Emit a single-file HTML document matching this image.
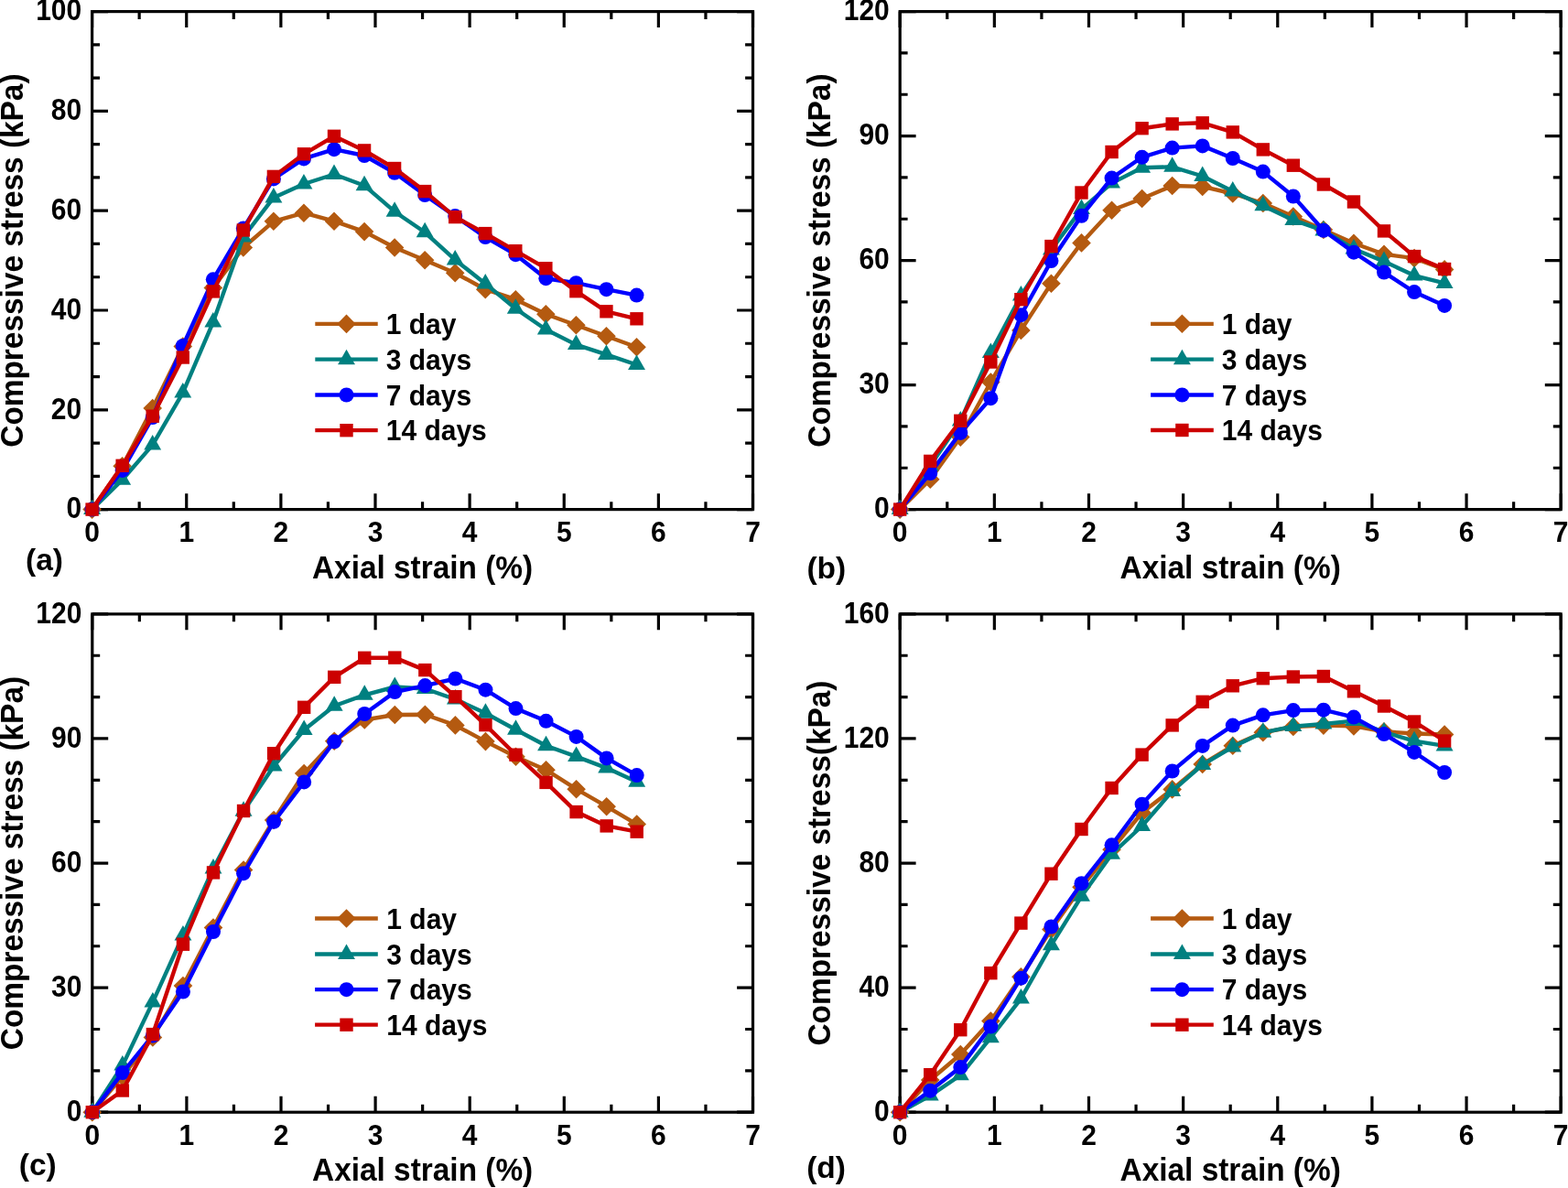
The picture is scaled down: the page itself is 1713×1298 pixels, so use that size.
<!DOCTYPE html>
<html><head><meta charset="utf-8"><title>Compressive stress vs axial strain</title>
<style>html,body{margin:0;padding:0;background:#fff;}svg{display:block;}</style>
</head><body>
<svg width="1713" height="1298" viewBox="0 0 1713 1298">
<rect width="1713" height="1298" fill="#fff"/>
<g font-family="'Liberation Sans', Arial, Helvetica, sans-serif" font-weight="bold" fill="#000">
<g><path d="M100.6 556.6V539.2M100.6 12.6V30M152.16 556.6V548.2M152.16 12.6V21M203.73 556.6V539.2M203.73 12.6V30M255.29 556.6V548.2M255.29 12.6V21M306.86 556.6V539.2M306.86 12.6V30M358.42 556.6V548.2M358.42 12.6V21M409.99 556.6V539.2M409.99 12.6V30M461.55 556.6V548.2M461.55 12.6V21M513.11 556.6V539.2M513.11 12.6V30M564.68 556.6V548.2M564.68 12.6V21M616.24 556.6V539.2M616.24 12.6V30M667.81 556.6V548.2M667.81 12.6V21M719.37 556.6V539.2M719.37 12.6V30M770.94 556.6V548.2M770.94 12.6V21M822.5 556.6V539.2M822.5 12.6V30M100.6 556.6H118M822.5 556.6H805.1M100.6 520.33H109M822.5 520.33H814.1M100.6 484.07H109M822.5 484.07H814.1M100.6 447.8H118M822.5 447.8H805.1M100.6 411.53H109M822.5 411.53H814.1M100.6 375.27H109M822.5 375.27H814.1M100.6 339H118M822.5 339H805.1M100.6 302.73H109M822.5 302.73H814.1M100.6 266.47H109M822.5 266.47H814.1M100.6 230.2H118M822.5 230.2H805.1M100.6 193.93H109M822.5 193.93H814.1M100.6 157.67H109M822.5 157.67H814.1M100.6 121.4H118M822.5 121.4H805.1M100.6 85.13H109M822.5 85.13H814.1M100.6 48.87H109M822.5 48.87H814.1M100.6 12.6H118M822.5 12.6H805.1" stroke="#000" stroke-width="3.2" fill="none"/><rect x="100.6" y="12.6" width="721.9" height="544" fill="none" stroke="#000" stroke-width="3.2" stroke-linejoin="miter"/><polyline points="100.6,556.6 133.65,509.3 166.7,446 199.75,378.6 232.8,314.5 265.85,270.5 298.9,241.8 331.95,232.7 365,241.7 398.05,253.1 431.1,270.5 464.15,284.2 497.2,298.2 530.25,316.2 563.3,327.2 596.35,343.3 629.4,355.3 662.45,367.3 695.5,379.3" fill="none" stroke="#B45A10" stroke-width="4.4" stroke-linejoin="round" stroke-linecap="butt"/><path d="M100.6 546.3L110.9 556.6L100.6 566.9L90.3 556.6Z" fill="#B45A10"/><path d="M133.65 499L143.95 509.3L133.65 519.6L123.35 509.3Z" fill="#B45A10"/><path d="M166.7 435.7L177 446L166.7 456.3L156.4 446Z" fill="#B45A10"/><path d="M199.75 368.3L210.05 378.6L199.75 388.9L189.45 378.6Z" fill="#B45A10"/><path d="M232.8 304.2L243.1 314.5L232.8 324.8L222.5 314.5Z" fill="#B45A10"/><path d="M265.85 260.2L276.15 270.5L265.85 280.8L255.55 270.5Z" fill="#B45A10"/><path d="M298.9 231.5L309.2 241.8L298.9 252.1L288.6 241.8Z" fill="#B45A10"/><path d="M331.95 222.4L342.25 232.7L331.95 243L321.65 232.7Z" fill="#B45A10"/><path d="M365 231.4L375.3 241.7L365 252L354.7 241.7Z" fill="#B45A10"/><path d="M398.05 242.8L408.35 253.1L398.05 263.4L387.75 253.1Z" fill="#B45A10"/><path d="M431.1 260.2L441.4 270.5L431.1 280.8L420.8 270.5Z" fill="#B45A10"/><path d="M464.15 273.9L474.45 284.2L464.15 294.5L453.85 284.2Z" fill="#B45A10"/><path d="M497.2 287.9L507.5 298.2L497.2 308.5L486.9 298.2Z" fill="#B45A10"/><path d="M530.25 305.9L540.55 316.2L530.25 326.5L519.95 316.2Z" fill="#B45A10"/><path d="M563.3 316.9L573.6 327.2L563.3 337.5L553 327.2Z" fill="#B45A10"/><path d="M596.35 333L606.65 343.3L596.35 353.6L586.05 343.3Z" fill="#B45A10"/><path d="M629.4 345L639.7 355.3L629.4 365.6L619.1 355.3Z" fill="#B45A10"/><path d="M662.45 357L672.75 367.3L662.45 377.6L652.15 367.3Z" fill="#B45A10"/><path d="M695.5 369L705.8 379.3L695.5 389.6L685.2 379.3Z" fill="#B45A10"/><polyline points="100.6,556.6 133.65,524.2 166.7,486.1 199.75,429.1 232.8,352.1 265.85,259 298.9,215.9 331.95,201 365,190.5 398.05,202.7 431.1,231.2 464.15,253.8 497.2,283.9 530.25,309.9 563.3,337.3 596.35,360 629.4,376.6 662.45,387.4 695.5,398.5" fill="none" stroke="#008080" stroke-width="4.4" stroke-linejoin="round" stroke-linecap="butt"/><path d="M100.6 545.6L110.05 562.1L91.15 562.1Z" fill="#008080"/><path d="M133.65 513.2L143.1 529.7L124.2 529.7Z" fill="#008080"/><path d="M166.7 475.1L176.15 491.6L157.25 491.6Z" fill="#008080"/><path d="M199.75 418.1L209.2 434.6L190.3 434.6Z" fill="#008080"/><path d="M232.8 341.1L242.25 357.6L223.35 357.6Z" fill="#008080"/><path d="M265.85 248L275.3 264.5L256.4 264.5Z" fill="#008080"/><path d="M298.9 204.9L308.35 221.4L289.45 221.4Z" fill="#008080"/><path d="M331.95 190L341.4 206.5L322.5 206.5Z" fill="#008080"/><path d="M365 179.5L374.45 196L355.55 196Z" fill="#008080"/><path d="M398.05 191.7L407.5 208.2L388.6 208.2Z" fill="#008080"/><path d="M431.1 220.2L440.55 236.7L421.65 236.7Z" fill="#008080"/><path d="M464.15 242.8L473.6 259.3L454.7 259.3Z" fill="#008080"/><path d="M497.2 272.9L506.65 289.4L487.75 289.4Z" fill="#008080"/><path d="M530.25 298.9L539.7 315.4L520.8 315.4Z" fill="#008080"/><path d="M563.3 326.3L572.75 342.8L553.85 342.8Z" fill="#008080"/><path d="M596.35 349L605.8 365.5L586.9 365.5Z" fill="#008080"/><path d="M629.4 365.6L638.85 382.1L619.95 382.1Z" fill="#008080"/><path d="M662.45 376.4L671.9 392.9L653 392.9Z" fill="#008080"/><path d="M695.5 387.5L704.95 404L686.05 404Z" fill="#008080"/><polyline points="100.6,556.6 133.65,513.9 166.7,456.1 199.75,377.9 232.8,305.3 265.85,249.5 298.9,195.4 331.95,173.4 365,163.2 398.05,170 431.1,188.8 464.15,213.1 497.2,236.1 530.25,259.1 563.3,278.2 596.35,304.2 629.4,309.2 662.45,316.2 695.5,322.6" fill="none" stroke="#0000FF" stroke-width="4.4" stroke-linejoin="round" stroke-linecap="butt"/><circle cx="100.6" cy="556.6" r="8" fill="#0000FF"/><circle cx="133.65" cy="513.9" r="8" fill="#0000FF"/><circle cx="166.7" cy="456.1" r="8" fill="#0000FF"/><circle cx="199.75" cy="377.9" r="8" fill="#0000FF"/><circle cx="232.8" cy="305.3" r="8" fill="#0000FF"/><circle cx="265.85" cy="249.5" r="8" fill="#0000FF"/><circle cx="298.9" cy="195.4" r="8" fill="#0000FF"/><circle cx="331.95" cy="173.4" r="8" fill="#0000FF"/><circle cx="365" cy="163.2" r="8" fill="#0000FF"/><circle cx="398.05" cy="170" r="8" fill="#0000FF"/><circle cx="431.1" cy="188.8" r="8" fill="#0000FF"/><circle cx="464.15" cy="213.1" r="8" fill="#0000FF"/><circle cx="497.2" cy="236.1" r="8" fill="#0000FF"/><circle cx="530.25" cy="259.1" r="8" fill="#0000FF"/><circle cx="563.3" cy="278.2" r="8" fill="#0000FF"/><circle cx="596.35" cy="304.2" r="8" fill="#0000FF"/><circle cx="629.4" cy="309.2" r="8" fill="#0000FF"/><circle cx="662.45" cy="316.2" r="8" fill="#0000FF"/><circle cx="695.5" cy="322.6" r="8" fill="#0000FF"/><polyline points="100.6,556.6 133.65,508.8 166.7,454.7 199.75,390.5 232.8,318.4 265.85,251.5 298.9,192.9 331.95,168.3 365,148.8 398.05,164.4 431.1,184 464.15,209.1 497.2,237.1 530.25,255.1 563.3,274.2 596.35,293.2 629.4,318.2 662.45,340.3 695.5,348.3" fill="none" stroke="#CC0000" stroke-width="4.4" stroke-linejoin="round" stroke-linecap="butt"/><rect x="93.4" y="549.4" width="14.4" height="14.4" fill="#CC0000"/><rect x="126.45" y="501.6" width="14.4" height="14.4" fill="#CC0000"/><rect x="159.5" y="447.5" width="14.4" height="14.4" fill="#CC0000"/><rect x="192.55" y="383.3" width="14.4" height="14.4" fill="#CC0000"/><rect x="225.6" y="311.2" width="14.4" height="14.4" fill="#CC0000"/><rect x="258.65" y="244.3" width="14.4" height="14.4" fill="#CC0000"/><rect x="291.7" y="185.7" width="14.4" height="14.4" fill="#CC0000"/><rect x="324.75" y="161.1" width="14.4" height="14.4" fill="#CC0000"/><rect x="357.8" y="141.6" width="14.4" height="14.4" fill="#CC0000"/><rect x="390.85" y="157.2" width="14.4" height="14.4" fill="#CC0000"/><rect x="423.9" y="176.8" width="14.4" height="14.4" fill="#CC0000"/><rect x="456.95" y="201.9" width="14.4" height="14.4" fill="#CC0000"/><rect x="490" y="229.9" width="14.4" height="14.4" fill="#CC0000"/><rect x="523.05" y="247.9" width="14.4" height="14.4" fill="#CC0000"/><rect x="556.1" y="267" width="14.4" height="14.4" fill="#CC0000"/><rect x="589.15" y="286" width="14.4" height="14.4" fill="#CC0000"/><rect x="622.2" y="311" width="14.4" height="14.4" fill="#CC0000"/><rect x="655.25" y="333.1" width="14.4" height="14.4" fill="#CC0000"/><rect x="688.3" y="341.1" width="14.4" height="14.4" fill="#CC0000"/><text transform="translate(100.6 592.1) scale(1 1.045)" font-size="30" text-anchor="middle">0</text><text transform="translate(203.73 592.1) scale(1 1.045)" font-size="30" text-anchor="middle">1</text><text transform="translate(306.86 592.1) scale(1 1.045)" font-size="30" text-anchor="middle">2</text><text transform="translate(409.99 592.1) scale(1 1.045)" font-size="30" text-anchor="middle">3</text><text transform="translate(513.11 592.1) scale(1 1.045)" font-size="30" text-anchor="middle">4</text><text transform="translate(616.24 592.1) scale(1 1.045)" font-size="30" text-anchor="middle">5</text><text transform="translate(719.37 592.1) scale(1 1.045)" font-size="30" text-anchor="middle">6</text><text transform="translate(822.5 592.1) scale(1 1.045)" font-size="30" text-anchor="middle">7</text><text transform="translate(89.2 566.4) scale(1 1.08)" font-size="30" text-anchor="end">0</text><text transform="translate(89.2 457.6) scale(1 1.08)" font-size="30" text-anchor="end">20</text><text transform="translate(89.2 348.8) scale(1 1.08)" font-size="30" text-anchor="end">40</text><text transform="translate(89.2 240) scale(1 1.08)" font-size="30" text-anchor="end">60</text><text transform="translate(89.2 131.2) scale(1 1.08)" font-size="30" text-anchor="end">80</text><text transform="translate(89.2 22.4) scale(1 1.08)" font-size="30" text-anchor="end">100</text><text transform="translate(461.55 631.8) scale(1 1.03)" font-size="33.4" text-anchor="middle">Axial strain (%)</text><text transform="translate(24.6 284.6) rotate(-90) scale(1 1.03)" font-size="33.4" text-anchor="middle">Compressive stress (kPa)</text><text x="28" y="622.6" font-size="33.5">(a)</text><line x1="344.3" y1="353.9" x2="412.7" y2="353.9" stroke="#B45A10" stroke-width="4.3"/><path d="M378.5 343.6L388.8 353.9L378.5 364.2L368.2 353.9Z" fill="#B45A10"/><text transform="translate(421.7 364.9) scale(1 1.06)" font-size="30">1 day</text><line x1="344.3" y1="392.7" x2="412.7" y2="392.7" stroke="#008080" stroke-width="4.3"/><path d="M378.5 381.7L387.95 398.2L369.05 398.2Z" fill="#008080"/><text transform="translate(421.7 403.7) scale(1 1.06)" font-size="30">3 days</text><line x1="344.3" y1="431.5" x2="412.7" y2="431.5" stroke="#0000FF" stroke-width="4.3"/><circle cx="378.5" cy="431.5" r="8" fill="#0000FF"/><text transform="translate(421.7 442.5) scale(1 1.06)" font-size="30">7 days</text><line x1="344.3" y1="470.2" x2="412.7" y2="470.2" stroke="#CC0000" stroke-width="4.3"/><rect x="371.3" y="463" width="14.4" height="14.4" fill="#CC0000"/><text transform="translate(421.7 481.2) scale(1 1.06)" font-size="30">14 days</text></g>
<g><path d="M983.2 556.6V539.2M983.2 12.6V30M1034.77 556.6V548.2M1034.77 12.6V21M1086.34 556.6V539.2M1086.34 12.6V30M1137.91 556.6V548.2M1137.91 12.6V21M1189.49 556.6V539.2M1189.49 12.6V30M1241.06 556.6V548.2M1241.06 12.6V21M1292.63 556.6V539.2M1292.63 12.6V30M1344.2 556.6V548.2M1344.2 12.6V21M1395.77 556.6V539.2M1395.77 12.6V30M1447.34 556.6V548.2M1447.34 12.6V21M1498.91 556.6V539.2M1498.91 12.6V30M1550.49 556.6V548.2M1550.49 12.6V21M1602.06 556.6V539.2M1602.06 12.6V30M1653.63 556.6V548.2M1653.63 12.6V21M1705.2 556.6V539.2M1705.2 12.6V30M983.2 556.6H1000.6M1705.2 556.6H1687.8M983.2 511.27H991.6M1705.2 511.27H1696.8M983.2 465.93H991.6M1705.2 465.93H1696.8M983.2 420.6H1000.6M1705.2 420.6H1687.8M983.2 375.27H991.6M1705.2 375.27H1696.8M983.2 329.93H991.6M1705.2 329.93H1696.8M983.2 284.6H1000.6M1705.2 284.6H1687.8M983.2 239.27H991.6M1705.2 239.27H1696.8M983.2 193.93H991.6M1705.2 193.93H1696.8M983.2 148.6H1000.6M1705.2 148.6H1687.8M983.2 103.27H991.6M1705.2 103.27H1696.8M983.2 57.93H991.6M1705.2 57.93H1696.8M983.2 12.6H1000.6M1705.2 12.6H1687.8" stroke="#000" stroke-width="3.2" fill="none"/><rect x="983.2" y="12.6" width="722" height="544" fill="none" stroke="#000" stroke-width="3.2" stroke-linejoin="miter"/><polyline points="983.2,556.6 1016.25,523.8 1049.3,477.6 1082.35,417.5 1115.4,360.9 1148.45,309.7 1181.5,265.4 1214.55,229.7 1247.6,217 1280.65,203 1313.7,203.9 1346.75,211.5 1379.8,222 1412.85,236.5 1445.9,251 1478.95,265.8 1512,277.8 1545.05,282.1 1578.1,294.4" fill="none" stroke="#B45A10" stroke-width="4.4" stroke-linejoin="round" stroke-linecap="butt"/><path d="M983.2 546.3L993.5 556.6L983.2 566.9L972.9 556.6Z" fill="#B45A10"/><path d="M1016.25 513.5L1026.55 523.8L1016.25 534.1L1005.95 523.8Z" fill="#B45A10"/><path d="M1049.3 467.3L1059.6 477.6L1049.3 487.9L1039 477.6Z" fill="#B45A10"/><path d="M1082.35 407.2L1092.65 417.5L1082.35 427.8L1072.05 417.5Z" fill="#B45A10"/><path d="M1115.4 350.6L1125.7 360.9L1115.4 371.2L1105.1 360.9Z" fill="#B45A10"/><path d="M1148.45 299.4L1158.75 309.7L1148.45 320L1138.15 309.7Z" fill="#B45A10"/><path d="M1181.5 255.1L1191.8 265.4L1181.5 275.7L1171.2 265.4Z" fill="#B45A10"/><path d="M1214.55 219.4L1224.85 229.7L1214.55 240L1204.25 229.7Z" fill="#B45A10"/><path d="M1247.6 206.7L1257.9 217L1247.6 227.3L1237.3 217Z" fill="#B45A10"/><path d="M1280.65 192.7L1290.95 203L1280.65 213.3L1270.35 203Z" fill="#B45A10"/><path d="M1313.7 193.6L1324 203.9L1313.7 214.2L1303.4 203.9Z" fill="#B45A10"/><path d="M1346.75 201.2L1357.05 211.5L1346.75 221.8L1336.45 211.5Z" fill="#B45A10"/><path d="M1379.8 211.7L1390.1 222L1379.8 232.3L1369.5 222Z" fill="#B45A10"/><path d="M1412.85 226.2L1423.15 236.5L1412.85 246.8L1402.55 236.5Z" fill="#B45A10"/><path d="M1445.9 240.7L1456.2 251L1445.9 261.3L1435.6 251Z" fill="#B45A10"/><path d="M1478.95 255.5L1489.25 265.8L1478.95 276.1L1468.65 265.8Z" fill="#B45A10"/><path d="M1512 267.5L1522.3 277.8L1512 288.1L1501.7 277.8Z" fill="#B45A10"/><path d="M1545.05 271.8L1555.35 282.1L1545.05 292.4L1534.75 282.1Z" fill="#B45A10"/><path d="M1578.1 284.1L1588.4 294.4L1578.1 304.7L1567.8 294.4Z" fill="#B45A10"/><polyline points="983.2,556.6 1016.25,509 1049.3,460 1082.35,385.4 1115.4,323 1148.45,272.9 1181.5,228.6 1214.55,200.1 1247.6,183.3 1280.65,182.3 1313.7,192.5 1346.75,209 1379.8,224.7 1412.85,240.4 1445.9,251.9 1478.95,272 1512,285.6 1545.05,301.1 1578.1,309.4" fill="none" stroke="#008080" stroke-width="4.4" stroke-linejoin="round" stroke-linecap="butt"/><path d="M983.2 545.6L992.65 562.1L973.75 562.1Z" fill="#008080"/><path d="M1016.25 498L1025.7 514.5L1006.8 514.5Z" fill="#008080"/><path d="M1049.3 449L1058.75 465.5L1039.85 465.5Z" fill="#008080"/><path d="M1082.35 374.4L1091.8 390.9L1072.9 390.9Z" fill="#008080"/><path d="M1115.4 312L1124.85 328.5L1105.95 328.5Z" fill="#008080"/><path d="M1148.45 261.9L1157.9 278.4L1139 278.4Z" fill="#008080"/><path d="M1181.5 217.6L1190.95 234.1L1172.05 234.1Z" fill="#008080"/><path d="M1214.55 189.1L1224 205.6L1205.1 205.6Z" fill="#008080"/><path d="M1247.6 172.3L1257.05 188.8L1238.15 188.8Z" fill="#008080"/><path d="M1280.65 171.3L1290.1 187.8L1271.2 187.8Z" fill="#008080"/><path d="M1313.7 181.5L1323.15 198L1304.25 198Z" fill="#008080"/><path d="M1346.75 198L1356.2 214.5L1337.3 214.5Z" fill="#008080"/><path d="M1379.8 213.7L1389.25 230.2L1370.35 230.2Z" fill="#008080"/><path d="M1412.85 229.4L1422.3 245.9L1403.4 245.9Z" fill="#008080"/><path d="M1445.9 240.9L1455.35 257.4L1436.45 257.4Z" fill="#008080"/><path d="M1478.95 261L1488.4 277.5L1469.5 277.5Z" fill="#008080"/><path d="M1512 274.6L1521.45 291.1L1502.55 291.1Z" fill="#008080"/><path d="M1545.05 290.1L1554.5 306.6L1535.6 306.6Z" fill="#008080"/><path d="M1578.1 298.4L1587.55 314.9L1568.65 314.9Z" fill="#008080"/><polyline points="983.2,556.6 1016.25,517 1049.3,472.9 1082.35,435.2 1115.4,344.2 1148.45,285.1 1181.5,235.8 1214.55,194.6 1247.6,171.8 1280.65,161.6 1313.7,159.4 1346.75,173 1379.8,187.6 1412.85,214.5 1445.9,251.8 1478.95,275.7 1512,297.6 1545.05,319.1 1578.1,333.9" fill="none" stroke="#0000FF" stroke-width="4.4" stroke-linejoin="round" stroke-linecap="butt"/><circle cx="983.2" cy="556.6" r="8" fill="#0000FF"/><circle cx="1016.25" cy="517" r="8" fill="#0000FF"/><circle cx="1049.3" cy="472.9" r="8" fill="#0000FF"/><circle cx="1082.35" cy="435.2" r="8" fill="#0000FF"/><circle cx="1115.4" cy="344.2" r="8" fill="#0000FF"/><circle cx="1148.45" cy="285.1" r="8" fill="#0000FF"/><circle cx="1181.5" cy="235.8" r="8" fill="#0000FF"/><circle cx="1214.55" cy="194.6" r="8" fill="#0000FF"/><circle cx="1247.6" cy="171.8" r="8" fill="#0000FF"/><circle cx="1280.65" cy="161.6" r="8" fill="#0000FF"/><circle cx="1313.7" cy="159.4" r="8" fill="#0000FF"/><circle cx="1346.75" cy="173" r="8" fill="#0000FF"/><circle cx="1379.8" cy="187.6" r="8" fill="#0000FF"/><circle cx="1412.85" cy="214.5" r="8" fill="#0000FF"/><circle cx="1445.9" cy="251.8" r="8" fill="#0000FF"/><circle cx="1478.95" cy="275.7" r="8" fill="#0000FF"/><circle cx="1512" cy="297.6" r="8" fill="#0000FF"/><circle cx="1545.05" cy="319.1" r="8" fill="#0000FF"/><circle cx="1578.1" cy="333.9" r="8" fill="#0000FF"/><polyline points="983.2,556.6 1016.25,503.9 1049.3,459.8 1082.35,395.5 1115.4,327.2 1148.45,269.1 1181.5,210.5 1214.55,166 1247.6,140.2 1280.65,135.4 1313.7,134.3 1346.75,144.4 1379.8,163.4 1412.85,180.7 1445.9,201.5 1478.95,220.5 1512,252.4 1545.05,280.1 1578.1,294" fill="none" stroke="#CC0000" stroke-width="4.4" stroke-linejoin="round" stroke-linecap="butt"/><rect x="976" y="549.4" width="14.4" height="14.4" fill="#CC0000"/><rect x="1009.05" y="496.7" width="14.4" height="14.4" fill="#CC0000"/><rect x="1042.1" y="452.6" width="14.4" height="14.4" fill="#CC0000"/><rect x="1075.15" y="388.3" width="14.4" height="14.4" fill="#CC0000"/><rect x="1108.2" y="320" width="14.4" height="14.4" fill="#CC0000"/><rect x="1141.25" y="261.9" width="14.4" height="14.4" fill="#CC0000"/><rect x="1174.3" y="203.3" width="14.4" height="14.4" fill="#CC0000"/><rect x="1207.35" y="158.8" width="14.4" height="14.4" fill="#CC0000"/><rect x="1240.4" y="133" width="14.4" height="14.4" fill="#CC0000"/><rect x="1273.45" y="128.2" width="14.4" height="14.4" fill="#CC0000"/><rect x="1306.5" y="127.1" width="14.4" height="14.4" fill="#CC0000"/><rect x="1339.55" y="137.2" width="14.4" height="14.4" fill="#CC0000"/><rect x="1372.6" y="156.2" width="14.4" height="14.4" fill="#CC0000"/><rect x="1405.65" y="173.5" width="14.4" height="14.4" fill="#CC0000"/><rect x="1438.7" y="194.3" width="14.4" height="14.4" fill="#CC0000"/><rect x="1471.75" y="213.3" width="14.4" height="14.4" fill="#CC0000"/><rect x="1504.8" y="245.2" width="14.4" height="14.4" fill="#CC0000"/><rect x="1537.85" y="272.9" width="14.4" height="14.4" fill="#CC0000"/><rect x="1570.9" y="286.8" width="14.4" height="14.4" fill="#CC0000"/><text transform="translate(983.2 592.1) scale(1 1.045)" font-size="30" text-anchor="middle">0</text><text transform="translate(1086.34 592.1) scale(1 1.045)" font-size="30" text-anchor="middle">1</text><text transform="translate(1189.49 592.1) scale(1 1.045)" font-size="30" text-anchor="middle">2</text><text transform="translate(1292.63 592.1) scale(1 1.045)" font-size="30" text-anchor="middle">3</text><text transform="translate(1395.77 592.1) scale(1 1.045)" font-size="30" text-anchor="middle">4</text><text transform="translate(1498.91 592.1) scale(1 1.045)" font-size="30" text-anchor="middle">5</text><text transform="translate(1602.06 592.1) scale(1 1.045)" font-size="30" text-anchor="middle">6</text><text transform="translate(1705.2 592.1) scale(1 1.045)" font-size="30" text-anchor="middle">7</text><text transform="translate(971.8 566.4) scale(1 1.08)" font-size="30" text-anchor="end">0</text><text transform="translate(971.8 430.4) scale(1 1.08)" font-size="30" text-anchor="end">30</text><text transform="translate(971.8 294.4) scale(1 1.08)" font-size="30" text-anchor="end">60</text><text transform="translate(971.8 158.4) scale(1 1.08)" font-size="30" text-anchor="end">90</text><text transform="translate(971.8 22.4) scale(1 1.08)" font-size="30" text-anchor="end">120</text><text transform="translate(1344.2 631.8) scale(1 1.03)" font-size="33.4" text-anchor="middle">Axial strain (%)</text><text transform="translate(907.2 284.6) rotate(-90) scale(1 1.03)" font-size="33.4" text-anchor="middle">Compressive stress (kPa)</text><text x="881.4" y="631.9" font-size="33.5">(b)</text><line x1="1257.1" y1="353.8" x2="1325.8" y2="353.8" stroke="#B45A10" stroke-width="4.3"/><path d="M1291.4 343.5L1301.7 353.8L1291.4 364.1L1281.1 353.8Z" fill="#B45A10"/><text transform="translate(1334.8 364.8) scale(1 1.06)" font-size="30">1 day</text><line x1="1257.1" y1="392.7" x2="1325.8" y2="392.7" stroke="#008080" stroke-width="4.3"/><path d="M1291.4 381.7L1300.85 398.2L1281.95 398.2Z" fill="#008080"/><text transform="translate(1334.8 403.7) scale(1 1.06)" font-size="30">3 days</text><line x1="1257.1" y1="431.5" x2="1325.8" y2="431.5" stroke="#0000FF" stroke-width="4.3"/><circle cx="1291.4" cy="431.5" r="8" fill="#0000FF"/><text transform="translate(1334.8 442.5) scale(1 1.06)" font-size="30">7 days</text><line x1="1257.1" y1="470" x2="1325.8" y2="470" stroke="#CC0000" stroke-width="4.3"/><rect x="1284.2" y="462.8" width="14.4" height="14.4" fill="#CC0000"/><text transform="translate(1334.8 481) scale(1 1.06)" font-size="30">14 days</text></g>
<g><path d="M100.8 1215.2V1197.8M100.8 670.9V688.3M152.35 1215.2V1206.8M152.35 670.9V679.3M203.9 1215.2V1197.8M203.9 670.9V688.3M255.45 1215.2V1206.8M255.45 670.9V679.3M307 1215.2V1197.8M307 670.9V688.3M358.55 1215.2V1206.8M358.55 670.9V679.3M410.1 1215.2V1197.8M410.1 670.9V688.3M461.65 1215.2V1206.8M461.65 670.9V679.3M513.2 1215.2V1197.8M513.2 670.9V688.3M564.75 1215.2V1206.8M564.75 670.9V679.3M616.3 1215.2V1197.8M616.3 670.9V688.3M667.85 1215.2V1206.8M667.85 670.9V679.3M719.4 1215.2V1197.8M719.4 670.9V688.3M770.95 1215.2V1206.8M770.95 670.9V679.3M822.5 1215.2V1197.8M822.5 670.9V688.3M100.8 1215.2H118.2M822.5 1215.2H805.1M100.8 1169.84H109.2M822.5 1169.84H814.1M100.8 1124.48H109.2M822.5 1124.48H814.1M100.8 1079.12H118.2M822.5 1079.12H805.1M100.8 1033.77H109.2M822.5 1033.77H814.1M100.8 988.41H109.2M822.5 988.41H814.1M100.8 943.05H118.2M822.5 943.05H805.1M100.8 897.69H109.2M822.5 897.69H814.1M100.8 852.33H109.2M822.5 852.33H814.1M100.8 806.97H118.2M822.5 806.97H805.1M100.8 761.62H109.2M822.5 761.62H814.1M100.8 716.26H109.2M822.5 716.26H814.1M100.8 670.9H118.2M822.5 670.9H805.1" stroke="#000" stroke-width="3.2" fill="none"/><rect x="100.8" y="670.9" width="721.7" height="544.3" fill="none" stroke="#000" stroke-width="3.2" stroke-linejoin="miter"/><polyline points="100.8,1215.2 133.85,1176 166.9,1133.5 199.95,1077 233,1013.5 266.05,950.5 299.1,896 332.15,845 365.2,809.8 398.25,786.5 431.3,781 464.35,780.7 497.4,792.4 530.45,810.1 563.5,826.8 596.55,841.2 629.6,862.2 662.65,881.2 695.7,900.6" fill="none" stroke="#B45A10" stroke-width="4.4" stroke-linejoin="round" stroke-linecap="butt"/><path d="M100.8 1204.9L111.1 1215.2L100.8 1225.5L90.5 1215.2Z" fill="#B45A10"/><path d="M133.85 1165.7L144.15 1176L133.85 1186.3L123.55 1176Z" fill="#B45A10"/><path d="M166.9 1123.2L177.2 1133.5L166.9 1143.8L156.6 1133.5Z" fill="#B45A10"/><path d="M199.95 1066.7L210.25 1077L199.95 1087.3L189.65 1077Z" fill="#B45A10"/><path d="M233 1003.2L243.3 1013.5L233 1023.8L222.7 1013.5Z" fill="#B45A10"/><path d="M266.05 940.2L276.35 950.5L266.05 960.8L255.75 950.5Z" fill="#B45A10"/><path d="M299.1 885.7L309.4 896L299.1 906.3L288.8 896Z" fill="#B45A10"/><path d="M332.15 834.7L342.45 845L332.15 855.3L321.85 845Z" fill="#B45A10"/><path d="M365.2 799.5L375.5 809.8L365.2 820.1L354.9 809.8Z" fill="#B45A10"/><path d="M398.25 776.2L408.55 786.5L398.25 796.8L387.95 786.5Z" fill="#B45A10"/><path d="M431.3 770.7L441.6 781L431.3 791.3L421 781Z" fill="#B45A10"/><path d="M464.35 770.4L474.65 780.7L464.35 791L454.05 780.7Z" fill="#B45A10"/><path d="M497.4 782.1L507.7 792.4L497.4 802.7L487.1 792.4Z" fill="#B45A10"/><path d="M530.45 799.8L540.75 810.1L530.45 820.4L520.15 810.1Z" fill="#B45A10"/><path d="M563.5 816.5L573.8 826.8L563.5 837.1L553.2 826.8Z" fill="#B45A10"/><path d="M596.55 830.9L606.85 841.2L596.55 851.5L586.25 841.2Z" fill="#B45A10"/><path d="M629.6 851.9L639.9 862.2L629.6 872.5L619.3 862.2Z" fill="#B45A10"/><path d="M662.65 870.9L672.95 881.2L662.65 891.5L652.35 881.2Z" fill="#B45A10"/><path d="M695.7 890.3L706 900.6L695.7 910.9L685.4 900.6Z" fill="#B45A10"/><polyline points="100.8,1215.2 133.85,1164.1 166.9,1094.9 199.95,1022 233,949 266.05,886.2 299.1,837 332.15,797.5 365.2,771.3 398.25,759.3 431.3,750.5 464.35,752.5 497.4,764 530.45,779.2 563.5,797.2 596.55,814.7 629.6,826.6 662.65,839.1 695.7,854.2" fill="none" stroke="#008080" stroke-width="4.4" stroke-linejoin="round" stroke-linecap="butt"/><path d="M100.8 1204.2L110.25 1220.7L91.35 1220.7Z" fill="#008080"/><path d="M133.85 1153.1L143.3 1169.6L124.4 1169.6Z" fill="#008080"/><path d="M166.9 1083.9L176.35 1100.4L157.45 1100.4Z" fill="#008080"/><path d="M199.95 1011L209.4 1027.5L190.5 1027.5Z" fill="#008080"/><path d="M233 938L242.45 954.5L223.55 954.5Z" fill="#008080"/><path d="M266.05 875.2L275.5 891.7L256.6 891.7Z" fill="#008080"/><path d="M299.1 826L308.55 842.5L289.65 842.5Z" fill="#008080"/><path d="M332.15 786.5L341.6 803L322.7 803Z" fill="#008080"/><path d="M365.2 760.3L374.65 776.8L355.75 776.8Z" fill="#008080"/><path d="M398.25 748.3L407.7 764.8L388.8 764.8Z" fill="#008080"/><path d="M431.3 739.5L440.75 756L421.85 756Z" fill="#008080"/><path d="M464.35 741.5L473.8 758L454.9 758Z" fill="#008080"/><path d="M497.4 753L506.85 769.5L487.95 769.5Z" fill="#008080"/><path d="M530.45 768.2L539.9 784.7L521 784.7Z" fill="#008080"/><path d="M563.5 786.2L572.95 802.7L554.05 802.7Z" fill="#008080"/><path d="M596.55 803.7L606 820.2L587.1 820.2Z" fill="#008080"/><path d="M629.6 815.6L639.05 832.1L620.15 832.1Z" fill="#008080"/><path d="M662.65 828.1L672.1 844.6L653.2 844.6Z" fill="#008080"/><path d="M695.7 843.2L705.15 859.7L686.25 859.7Z" fill="#008080"/><polyline points="100.8,1215.2 133.85,1172.1 166.9,1131.5 199.95,1083.5 233,1018 266.05,954.2 299.1,897.8 332.15,854.4 365.2,810.3 398.25,780 431.3,756.1 464.35,749.1 497.4,741.5 530.45,753.7 563.5,774.1 596.55,787.8 629.6,804.9 662.65,828.4 695.7,847.1" fill="none" stroke="#0000FF" stroke-width="4.4" stroke-linejoin="round" stroke-linecap="butt"/><circle cx="100.8" cy="1215.2" r="8" fill="#0000FF"/><circle cx="133.85" cy="1172.1" r="8" fill="#0000FF"/><circle cx="166.9" cy="1131.5" r="8" fill="#0000FF"/><circle cx="199.95" cy="1083.5" r="8" fill="#0000FF"/><circle cx="233" cy="1018" r="8" fill="#0000FF"/><circle cx="266.05" cy="954.2" r="8" fill="#0000FF"/><circle cx="299.1" cy="897.8" r="8" fill="#0000FF"/><circle cx="332.15" cy="854.4" r="8" fill="#0000FF"/><circle cx="365.2" cy="810.3" r="8" fill="#0000FF"/><circle cx="398.25" cy="780" r="8" fill="#0000FF"/><circle cx="431.3" cy="756.1" r="8" fill="#0000FF"/><circle cx="464.35" cy="749.1" r="8" fill="#0000FF"/><circle cx="497.4" cy="741.5" r="8" fill="#0000FF"/><circle cx="530.45" cy="753.7" r="8" fill="#0000FF"/><circle cx="563.5" cy="774.1" r="8" fill="#0000FF"/><circle cx="596.55" cy="787.8" r="8" fill="#0000FF"/><circle cx="629.6" cy="804.9" r="8" fill="#0000FF"/><circle cx="662.65" cy="828.4" r="8" fill="#0000FF"/><circle cx="695.7" cy="847.1" r="8" fill="#0000FF"/><polyline points="100.8,1215.2 133.85,1191.5 166.9,1130.1 199.95,1031.7 233,953.4 266.05,886 299.1,823.2 332.15,772.8 365.2,739.8 398.25,718.8 431.3,718.6 464.35,732.1 497.4,761.2 530.45,792.1 563.5,824.7 596.55,854.9 629.6,887.1 662.65,902.4 695.7,908.7" fill="none" stroke="#CC0000" stroke-width="4.4" stroke-linejoin="round" stroke-linecap="butt"/><rect x="93.6" y="1208" width="14.4" height="14.4" fill="#CC0000"/><rect x="126.65" y="1184.3" width="14.4" height="14.4" fill="#CC0000"/><rect x="159.7" y="1122.9" width="14.4" height="14.4" fill="#CC0000"/><rect x="192.75" y="1024.5" width="14.4" height="14.4" fill="#CC0000"/><rect x="225.8" y="946.2" width="14.4" height="14.4" fill="#CC0000"/><rect x="258.85" y="878.8" width="14.4" height="14.4" fill="#CC0000"/><rect x="291.9" y="816" width="14.4" height="14.4" fill="#CC0000"/><rect x="324.95" y="765.6" width="14.4" height="14.4" fill="#CC0000"/><rect x="358" y="732.6" width="14.4" height="14.4" fill="#CC0000"/><rect x="391.05" y="711.6" width="14.4" height="14.4" fill="#CC0000"/><rect x="424.1" y="711.4" width="14.4" height="14.4" fill="#CC0000"/><rect x="457.15" y="724.9" width="14.4" height="14.4" fill="#CC0000"/><rect x="490.2" y="754" width="14.4" height="14.4" fill="#CC0000"/><rect x="523.25" y="784.9" width="14.4" height="14.4" fill="#CC0000"/><rect x="556.3" y="817.5" width="14.4" height="14.4" fill="#CC0000"/><rect x="589.35" y="847.7" width="14.4" height="14.4" fill="#CC0000"/><rect x="622.4" y="879.9" width="14.4" height="14.4" fill="#CC0000"/><rect x="655.45" y="895.2" width="14.4" height="14.4" fill="#CC0000"/><rect x="688.5" y="901.5" width="14.4" height="14.4" fill="#CC0000"/><text transform="translate(100.8 1250.7) scale(1 1.045)" font-size="30" text-anchor="middle">0</text><text transform="translate(203.9 1250.7) scale(1 1.045)" font-size="30" text-anchor="middle">1</text><text transform="translate(307 1250.7) scale(1 1.045)" font-size="30" text-anchor="middle">2</text><text transform="translate(410.1 1250.7) scale(1 1.045)" font-size="30" text-anchor="middle">3</text><text transform="translate(513.2 1250.7) scale(1 1.045)" font-size="30" text-anchor="middle">4</text><text transform="translate(616.3 1250.7) scale(1 1.045)" font-size="30" text-anchor="middle">5</text><text transform="translate(719.4 1250.7) scale(1 1.045)" font-size="30" text-anchor="middle">6</text><text transform="translate(822.5 1250.7) scale(1 1.045)" font-size="30" text-anchor="middle">7</text><text transform="translate(89.4 1225) scale(1 1.08)" font-size="30" text-anchor="end">0</text><text transform="translate(89.4 1088.92) scale(1 1.08)" font-size="30" text-anchor="end">30</text><text transform="translate(89.4 952.85) scale(1 1.08)" font-size="30" text-anchor="end">60</text><text transform="translate(89.4 816.77) scale(1 1.08)" font-size="30" text-anchor="end">90</text><text transform="translate(89.4 680.7) scale(1 1.08)" font-size="30" text-anchor="end">120</text><text transform="translate(461.65 1290.4) scale(1 1.03)" font-size="33.4" text-anchor="middle">Axial strain (%)</text><text transform="translate(24.8 943.05) rotate(-90) scale(1 1.03)" font-size="33.4" text-anchor="middle">Compressive stress (kPa)</text><text x="20.8" y="1283.6" font-size="33.5">(c)</text><line x1="344.1" y1="1003.5" x2="412.8" y2="1003.5" stroke="#B45A10" stroke-width="4.3"/><path d="M378.5 993.2L388.8 1003.5L378.5 1013.8L368.2 1003.5Z" fill="#B45A10"/><text transform="translate(422.3 1014.5) scale(1 1.06)" font-size="30">1 day</text><line x1="344.1" y1="1042.5" x2="412.8" y2="1042.5" stroke="#008080" stroke-width="4.3"/><path d="M378.5 1031.5L387.95 1048L369.05 1048Z" fill="#008080"/><text transform="translate(422.3 1053.5) scale(1 1.06)" font-size="30">3 days</text><line x1="344.1" y1="1081.2" x2="412.8" y2="1081.2" stroke="#0000FF" stroke-width="4.3"/><circle cx="378.5" cy="1081.2" r="8" fill="#0000FF"/><text transform="translate(422.3 1092.2) scale(1 1.06)" font-size="30">7 days</text><line x1="344.1" y1="1119.7" x2="412.8" y2="1119.7" stroke="#CC0000" stroke-width="4.3"/><rect x="371.3" y="1112.5" width="14.4" height="14.4" fill="#CC0000"/><text transform="translate(422.3 1130.7) scale(1 1.06)" font-size="30">14 days</text></g>
<g><path d="M983.2 1215.2V1197.8M983.2 670.9V688.3M1034.77 1215.2V1206.8M1034.77 670.9V679.3M1086.34 1215.2V1197.8M1086.34 670.9V688.3M1137.91 1215.2V1206.8M1137.91 670.9V679.3M1189.49 1215.2V1197.8M1189.49 670.9V688.3M1241.06 1215.2V1206.8M1241.06 670.9V679.3M1292.63 1215.2V1197.8M1292.63 670.9V688.3M1344.2 1215.2V1206.8M1344.2 670.9V679.3M1395.77 1215.2V1197.8M1395.77 670.9V688.3M1447.34 1215.2V1206.8M1447.34 670.9V679.3M1498.91 1215.2V1197.8M1498.91 670.9V688.3M1550.49 1215.2V1206.8M1550.49 670.9V679.3M1602.06 1215.2V1197.8M1602.06 670.9V688.3M1653.63 1215.2V1206.8M1653.63 670.9V679.3M1705.2 1215.2V1197.8M1705.2 670.9V688.3M983.2 1215.2H1000.6M1705.2 1215.2H1687.8M983.2 1169.84H991.6M1705.2 1169.84H1696.8M983.2 1124.48H991.6M1705.2 1124.48H1696.8M983.2 1079.12H1000.6M1705.2 1079.12H1687.8M983.2 1033.77H991.6M1705.2 1033.77H1696.8M983.2 988.41H991.6M1705.2 988.41H1696.8M983.2 943.05H1000.6M1705.2 943.05H1687.8M983.2 897.69H991.6M1705.2 897.69H1696.8M983.2 852.33H991.6M1705.2 852.33H1696.8M983.2 806.97H1000.6M1705.2 806.97H1687.8M983.2 761.62H991.6M1705.2 761.62H1696.8M983.2 716.26H991.6M1705.2 716.26H1696.8M983.2 670.9H1000.6M1705.2 670.9H1687.8" stroke="#000" stroke-width="3.2" fill="none"/><rect x="983.2" y="670.9" width="722" height="544.3" fill="none" stroke="#000" stroke-width="3.2" stroke-linejoin="miter"/><polyline points="983.2,1215.2 1016.25,1180 1049.3,1152 1082.35,1115.6 1115.4,1067.3 1148.45,1015.5 1181.5,969.3 1214.55,928.2 1247.6,888 1280.65,862.4 1313.7,835 1346.75,814.8 1379.8,800.3 1412.85,794 1445.9,792.6 1478.95,793.4 1512,799.3 1545.05,801.5 1578.1,802.5" fill="none" stroke="#B45A10" stroke-width="4.4" stroke-linejoin="round" stroke-linecap="butt"/><path d="M983.2 1204.9L993.5 1215.2L983.2 1225.5L972.9 1215.2Z" fill="#B45A10"/><path d="M1016.25 1169.7L1026.55 1180L1016.25 1190.3L1005.95 1180Z" fill="#B45A10"/><path d="M1049.3 1141.7L1059.6 1152L1049.3 1162.3L1039 1152Z" fill="#B45A10"/><path d="M1082.35 1105.3L1092.65 1115.6L1082.35 1125.9L1072.05 1115.6Z" fill="#B45A10"/><path d="M1115.4 1057L1125.7 1067.3L1115.4 1077.6L1105.1 1067.3Z" fill="#B45A10"/><path d="M1148.45 1005.2L1158.75 1015.5L1148.45 1025.8L1138.15 1015.5Z" fill="#B45A10"/><path d="M1181.5 959L1191.8 969.3L1181.5 979.6L1171.2 969.3Z" fill="#B45A10"/><path d="M1214.55 917.9L1224.85 928.2L1214.55 938.5L1204.25 928.2Z" fill="#B45A10"/><path d="M1247.6 877.7L1257.9 888L1247.6 898.3L1237.3 888Z" fill="#B45A10"/><path d="M1280.65 852.1L1290.95 862.4L1280.65 872.7L1270.35 862.4Z" fill="#B45A10"/><path d="M1313.7 824.7L1324 835L1313.7 845.3L1303.4 835Z" fill="#B45A10"/><path d="M1346.75 804.5L1357.05 814.8L1346.75 825.1L1336.45 814.8Z" fill="#B45A10"/><path d="M1379.8 790L1390.1 800.3L1379.8 810.6L1369.5 800.3Z" fill="#B45A10"/><path d="M1412.85 783.7L1423.15 794L1412.85 804.3L1402.55 794Z" fill="#B45A10"/><path d="M1445.9 782.3L1456.2 792.6L1445.9 802.9L1435.6 792.6Z" fill="#B45A10"/><path d="M1478.95 783.1L1489.25 793.4L1478.95 803.7L1468.65 793.4Z" fill="#B45A10"/><path d="M1512 789L1522.3 799.3L1512 809.6L1501.7 799.3Z" fill="#B45A10"/><path d="M1545.05 791.2L1555.35 801.5L1545.05 811.8L1534.75 801.5Z" fill="#B45A10"/><path d="M1578.1 792.2L1588.4 802.5L1578.1 812.8L1567.8 802.5Z" fill="#B45A10"/><polyline points="983.2,1215.2 1016.25,1197.1 1049.3,1174.8 1082.35,1133.7 1115.4,1091.1 1148.45,1032.7 1181.5,979.3 1214.55,933.2 1247.6,902.5 1280.65,864.4 1313.7,835.6 1346.75,816.1 1379.8,800.3 1412.85,793.6 1445.9,791 1478.95,787.6 1512,799.9 1545.05,809.7 1578.1,814.9" fill="none" stroke="#008080" stroke-width="4.4" stroke-linejoin="round" stroke-linecap="butt"/><path d="M983.2 1204.2L992.65 1220.7L973.75 1220.7Z" fill="#008080"/><path d="M1016.25 1186.1L1025.7 1202.6L1006.8 1202.6Z" fill="#008080"/><path d="M1049.3 1163.8L1058.75 1180.3L1039.85 1180.3Z" fill="#008080"/><path d="M1082.35 1122.7L1091.8 1139.2L1072.9 1139.2Z" fill="#008080"/><path d="M1115.4 1080.1L1124.85 1096.6L1105.95 1096.6Z" fill="#008080"/><path d="M1148.45 1021.7L1157.9 1038.2L1139 1038.2Z" fill="#008080"/><path d="M1181.5 968.3L1190.95 984.8L1172.05 984.8Z" fill="#008080"/><path d="M1214.55 922.2L1224 938.7L1205.1 938.7Z" fill="#008080"/><path d="M1247.6 891.5L1257.05 908L1238.15 908Z" fill="#008080"/><path d="M1280.65 853.4L1290.1 869.9L1271.2 869.9Z" fill="#008080"/><path d="M1313.7 824.6L1323.15 841.1L1304.25 841.1Z" fill="#008080"/><path d="M1346.75 805.1L1356.2 821.6L1337.3 821.6Z" fill="#008080"/><path d="M1379.8 789.3L1389.25 805.8L1370.35 805.8Z" fill="#008080"/><path d="M1412.85 782.6L1422.3 799.1L1403.4 799.1Z" fill="#008080"/><path d="M1445.9 780L1455.35 796.5L1436.45 796.5Z" fill="#008080"/><path d="M1478.95 776.6L1488.4 793.1L1469.5 793.1Z" fill="#008080"/><path d="M1512 788.9L1521.45 805.4L1502.55 805.4Z" fill="#008080"/><path d="M1545.05 798.7L1554.5 815.2L1535.6 815.2Z" fill="#008080"/><path d="M1578.1 803.9L1587.55 820.4L1568.65 820.4Z" fill="#008080"/><polyline points="983.2,1215.2 1016.25,1191.7 1049.3,1166.1 1082.35,1121.6 1115.4,1068.7 1148.45,1012.5 1181.5,965.2 1214.55,923.3 1247.6,878.7 1280.65,842.5 1313.7,814.9 1346.75,792.6 1379.8,781.3 1412.85,776.1 1445.9,775.7 1478.95,783.6 1512,802 1545.05,821.9 1578.1,844" fill="none" stroke="#0000FF" stroke-width="4.4" stroke-linejoin="round" stroke-linecap="butt"/><circle cx="983.2" cy="1215.2" r="8" fill="#0000FF"/><circle cx="1016.25" cy="1191.7" r="8" fill="#0000FF"/><circle cx="1049.3" cy="1166.1" r="8" fill="#0000FF"/><circle cx="1082.35" cy="1121.6" r="8" fill="#0000FF"/><circle cx="1115.4" cy="1068.7" r="8" fill="#0000FF"/><circle cx="1148.45" cy="1012.5" r="8" fill="#0000FF"/><circle cx="1181.5" cy="965.2" r="8" fill="#0000FF"/><circle cx="1214.55" cy="923.3" r="8" fill="#0000FF"/><circle cx="1247.6" cy="878.7" r="8" fill="#0000FF"/><circle cx="1280.65" cy="842.5" r="8" fill="#0000FF"/><circle cx="1313.7" cy="814.9" r="8" fill="#0000FF"/><circle cx="1346.75" cy="792.6" r="8" fill="#0000FF"/><circle cx="1379.8" cy="781.3" r="8" fill="#0000FF"/><circle cx="1412.85" cy="776.1" r="8" fill="#0000FF"/><circle cx="1445.9" cy="775.7" r="8" fill="#0000FF"/><circle cx="1478.95" cy="783.6" r="8" fill="#0000FF"/><circle cx="1512" cy="802" r="8" fill="#0000FF"/><circle cx="1545.05" cy="821.9" r="8" fill="#0000FF"/><circle cx="1578.1" cy="844" r="8" fill="#0000FF"/><polyline points="983.2,1215.2 1016.25,1174.2 1049.3,1125.2 1082.35,1063.2 1115.4,1008.6 1148.45,954.7 1181.5,906 1214.55,861 1247.6,824.6 1280.65,792.4 1313.7,766.8 1346.75,749.3 1379.8,741.2 1412.85,739.5 1445.9,739 1478.95,755.3 1512,771.5 1545.05,788.5 1578.1,809.5" fill="none" stroke="#CC0000" stroke-width="4.4" stroke-linejoin="round" stroke-linecap="butt"/><rect x="976" y="1208" width="14.4" height="14.4" fill="#CC0000"/><rect x="1009.05" y="1167" width="14.4" height="14.4" fill="#CC0000"/><rect x="1042.1" y="1118" width="14.4" height="14.4" fill="#CC0000"/><rect x="1075.15" y="1056" width="14.4" height="14.4" fill="#CC0000"/><rect x="1108.2" y="1001.4" width="14.4" height="14.4" fill="#CC0000"/><rect x="1141.25" y="947.5" width="14.4" height="14.4" fill="#CC0000"/><rect x="1174.3" y="898.8" width="14.4" height="14.4" fill="#CC0000"/><rect x="1207.35" y="853.8" width="14.4" height="14.4" fill="#CC0000"/><rect x="1240.4" y="817.4" width="14.4" height="14.4" fill="#CC0000"/><rect x="1273.45" y="785.2" width="14.4" height="14.4" fill="#CC0000"/><rect x="1306.5" y="759.6" width="14.4" height="14.4" fill="#CC0000"/><rect x="1339.55" y="742.1" width="14.4" height="14.4" fill="#CC0000"/><rect x="1372.6" y="734" width="14.4" height="14.4" fill="#CC0000"/><rect x="1405.65" y="732.3" width="14.4" height="14.4" fill="#CC0000"/><rect x="1438.7" y="731.8" width="14.4" height="14.4" fill="#CC0000"/><rect x="1471.75" y="748.1" width="14.4" height="14.4" fill="#CC0000"/><rect x="1504.8" y="764.3" width="14.4" height="14.4" fill="#CC0000"/><rect x="1537.85" y="781.3" width="14.4" height="14.4" fill="#CC0000"/><rect x="1570.9" y="802.3" width="14.4" height="14.4" fill="#CC0000"/><text transform="translate(983.2 1250.7) scale(1 1.045)" font-size="30" text-anchor="middle">0</text><text transform="translate(1086.34 1250.7) scale(1 1.045)" font-size="30" text-anchor="middle">1</text><text transform="translate(1189.49 1250.7) scale(1 1.045)" font-size="30" text-anchor="middle">2</text><text transform="translate(1292.63 1250.7) scale(1 1.045)" font-size="30" text-anchor="middle">3</text><text transform="translate(1395.77 1250.7) scale(1 1.045)" font-size="30" text-anchor="middle">4</text><text transform="translate(1498.91 1250.7) scale(1 1.045)" font-size="30" text-anchor="middle">5</text><text transform="translate(1602.06 1250.7) scale(1 1.045)" font-size="30" text-anchor="middle">6</text><text transform="translate(1705.2 1250.7) scale(1 1.045)" font-size="30" text-anchor="middle">7</text><text transform="translate(971.8 1225) scale(1 1.08)" font-size="30" text-anchor="end">0</text><text transform="translate(971.8 1088.92) scale(1 1.08)" font-size="30" text-anchor="end">40</text><text transform="translate(971.8 952.85) scale(1 1.08)" font-size="30" text-anchor="end">80</text><text transform="translate(971.8 816.77) scale(1 1.08)" font-size="30" text-anchor="end">120</text><text transform="translate(971.8 680.7) scale(1 1.08)" font-size="30" text-anchor="end">160</text><text transform="translate(1344.2 1290.4) scale(1 1.03)" font-size="33.4" text-anchor="middle">Axial strain (%)</text><text transform="translate(907.2 943.05) rotate(-90) scale(1 1.03)" font-size="33.4" text-anchor="middle">Compressive stress(kPa)</text><text x="881.2" y="1286.9" font-size="33.5">(d)</text><line x1="1257.1" y1="1003.5" x2="1325.8" y2="1003.5" stroke="#B45A10" stroke-width="4.3"/><path d="M1291.4 993.2L1301.7 1003.5L1291.4 1013.8L1281.1 1003.5Z" fill="#B45A10"/><text transform="translate(1334.8 1014.5) scale(1 1.06)" font-size="30">1 day</text><line x1="1257.1" y1="1042.5" x2="1325.8" y2="1042.5" stroke="#008080" stroke-width="4.3"/><path d="M1291.4 1031.5L1300.85 1048L1281.95 1048Z" fill="#008080"/><text transform="translate(1334.8 1053.5) scale(1 1.06)" font-size="30">3 days</text><line x1="1257.1" y1="1081.2" x2="1325.8" y2="1081.2" stroke="#0000FF" stroke-width="4.3"/><circle cx="1291.4" cy="1081.2" r="8" fill="#0000FF"/><text transform="translate(1334.8 1092.2) scale(1 1.06)" font-size="30">7 days</text><line x1="1257.1" y1="1119.7" x2="1325.8" y2="1119.7" stroke="#CC0000" stroke-width="4.3"/><rect x="1284.2" y="1112.5" width="14.4" height="14.4" fill="#CC0000"/><text transform="translate(1334.8 1130.7) scale(1 1.06)" font-size="30">14 days</text></g>
</g></svg>
</body></html>
